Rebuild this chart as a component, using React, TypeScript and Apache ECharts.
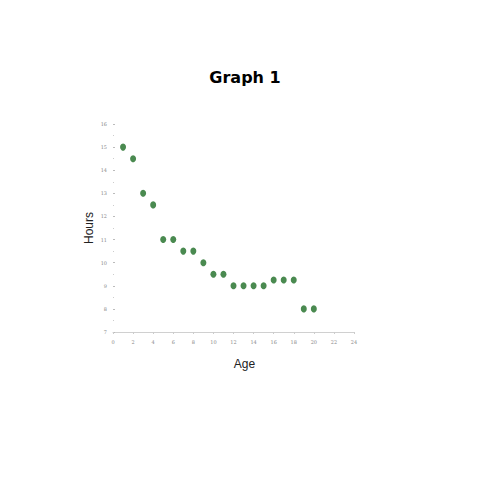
import React, { useEffect, useRef } from "react";
import * as echarts from "echarts";

const ages = [1, 2, 3, 4, 5, 6, 7, 8, 9, 10, 11, 12, 13, 14, 15, 16, 17, 18, 19, 20];
const hours = [15, 14.5, 13, 12.5, 11, 11, 10.5, 10.5, 10, 9.5, 9.5, 9, 9, 9, 9, 9.25, 9.25, 9.25, 8, 8];

export default function App() {
    const ref = useRef<HTMLDivElement | null>(null);

    useEffect(() => {
        if (!ref.current) return;
        const inst = echarts.init(ref.current, null, { renderer: "svg" });

        const option: echarts.EChartsOption = {
            animation: false,
            backgroundColor: "#ffffff",
            title: {
                text: "Graph 1",
                left: 240,
                top: 64,
                textAlign: "center",
                textStyle: {
                    fontFamily: "'Comic Sans MS', 'DejaVu Sans', sans-serif",
                    fontSize: 16,
                    fontWeight: "bold",
                    color: "#000",
                },
            },
            grid: { left: 113, right: 141, top: 124, bottom: 163, containLabel: false },
            xAxis: {
                type: "value",
                min: 0,
                max: 24,
                interval: 2,
                name: "Age",
                nameLocation: "middle",
                nameGap: 26,
                nameTextStyle: {
                    fontFamily: "Liberation Sans, Arial",
                    fontSize: 12,
                    color: "#222",
                    padding: [0, 0, 0, 22],
                },
                axisLine: { show: true, lineStyle: { color: "#d0d0d0", width: 1 } },
                axisTick: { show: true, length: 2, lineStyle: { color: "#ccc" } },
                axisLabel: { fontSize: 5, color: "#888", margin: 7, fontFamily: "DejaVu Serif" },
                splitLine: { show: false },
            },
            yAxis: {
                type: "value",
                min: 7,
                max: 16,
                interval: 1,
                name: "Hours",
                nameLocation: "middle",
                nameGap: 18,
                nameRotate: 90,
                nameTextStyle: { fontFamily: "Liberation Sans, Arial", fontSize: 12, color: "#222" },
                axisLine: { show: false },
                axisTick: { show: true, length: 2, inside: true, lineStyle: { color: "#bbb" } },
                minorTick: { show: true, splitNumber: 2, length: 1, lineStyle: { color: "#ccc" } },
                axisLabel: { fontSize: 5, color: "#888", margin: 6, fontFamily: "DejaVu Serif" },
                splitLine: { show: false },
            },
            series: [
                {
                    type: "scatter",
                    data: ages.map((a, i) => [a, hours[i]]),
                    symbol: "circle",
                    symbolSize: [6, 7],
                    itemStyle: { color: "#4a8a50", opacity: 1 },
                },
            ],
        };
        inst.setOption(option);

        return () => {
            inst.dispose();
        };
    }, []);

    return <div ref={ref} style={{ width: 495, height: 495, marginLeft: -8, marginTop: -8 }} />;
}
